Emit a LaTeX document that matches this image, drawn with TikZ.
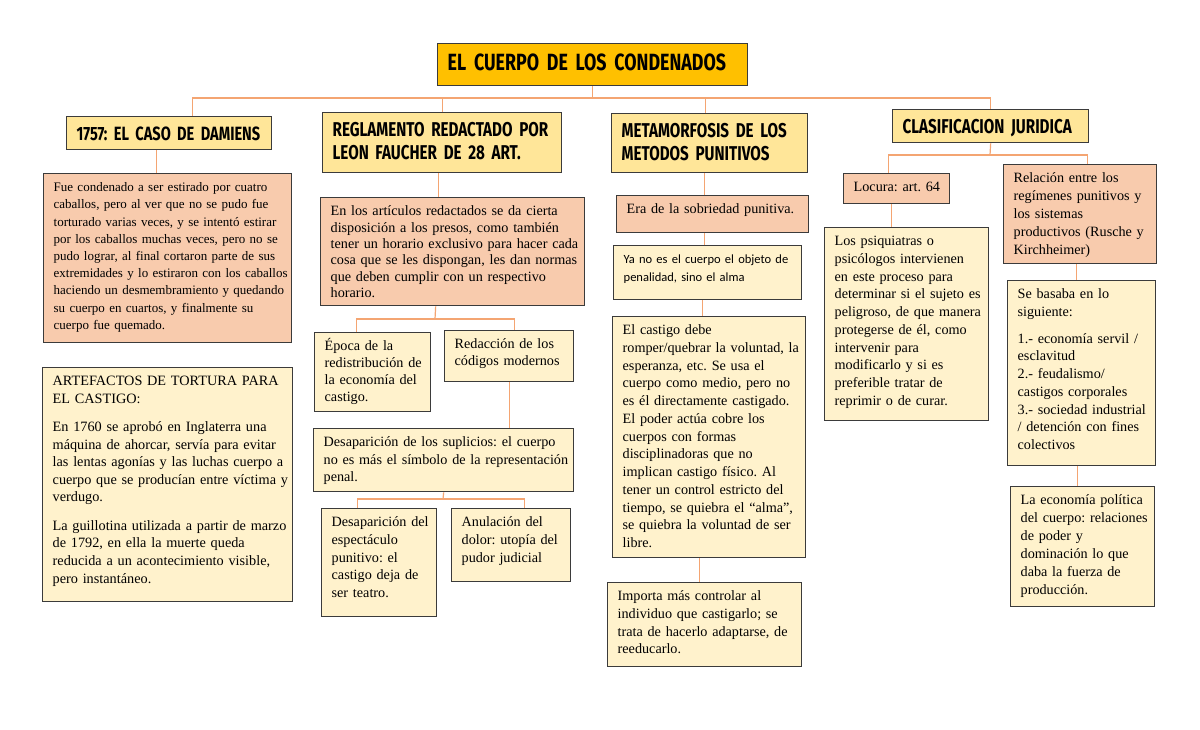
\documentclass[tikz,border=0pt]{standalone}
\usepackage{fontspec}
\setmainfont{Liberation Serif}
\newfontfamily\rotulo[FakeStretch=0.76]{Fira Sans}
\newfontfamily\sinserif{Carlito}
\usetikzlibrary{positioning}
\frenchspacing

\definecolor{oro}{HTML}{FFC000}
\definecolor{arena}{HTML}{FFE699}
\definecolor{durazno}{HTML}{F8CBAD}
\definecolor{crema}{HTML}{FFF2CC}
\definecolor{borde}{HTML}{3B3B3B}
\definecolor{naranja}{HTML}{F4A572}

\newcommand{\letra}[2]{\fontsize{#1}{#2}\selectfont}

\begin{document}
\begin{tikzpicture}[x=0.75pt,y=-0.75pt,
  caja/.style={draw=borde,line width=1pt,anchor=north west,align=left,
    inner xsep=2pt,inner ysep=4pt,text height=9.5pt,
    execute at begin node={\leftskip=5.5pt},font=\letra{10.65pt}{13.3pt}},
  durazno/.style={caja,fill=durazno},
  crema/.style={caja,fill=crema},
  cabecera/.style={caja,fill=arena,text height=13.5pt,
    font=\rotulo\bfseries\letra{15pt}{17.25pt}},
  linea/.style={draw=naranja,line width=0.9pt}]

  \path[fill=white] (0,0) rectangle (1200,729);

  % titulo y columnas
  \node[cabecera,fill=oro,text height=16pt,text width=228.5pt,text depth=7.5pt,
        font=\rotulo\bfseries\letra{17.6pt}{20pt}] (titulo) at (437,43) {EL CUERPO DE LOS CONDENADOS};
  \node[cabecera,text width=149.75pt,text depth=3.25pt,
        font=\rotulo\bfseries\letra{14.4pt}{17.25pt}] (h1) at (66,116) {1757: EL CASO DE DAMIENS};
  \node[cabecera,text width=175.25pt,text depth=23.5pt] (h2) at (322,112) {REGLAMENTO REDACTADO POR\\LEON FAUCHER DE 28 ART.};
  \node[cabecera,text width=143pt,text depth=22.75pt] (h3) at (611,113) {METAMORFOSIS DE LOS\\METODOS PUNITIVOS};
  \node[cabecera,text width=143pt,text depth=3.25pt] (h4) at (892,109) {CLASIFICACION JURIDICA};

  % columna 1
  \node[durazno,text width=182pt,text depth=109.25pt,font=\letra{9.75pt}{12.9pt}] (damiens) at (43,173)
    {Fue condenado a ser estirado por cuatro\\
     caballos, pero al ver que no se pudo fue\\
     torturado varias veces, y se intentó estirar\\
     por los caballos muchas veces, pero no se\\
     pudo lograr, al final cortaron parte de sus\\
     extremidades y lo estiraron con los caballos\\
     haciendo un desmembramiento y quedando\\
     su cuerpo en cuartos, y finalmente su\\
     cuerpo fue quemado.};
  \node[crema,text width=183.5pt,text depth=158pt,font=\letra{10.7pt}{13.2pt}] (artefactos) at (42,367)
    {ARTEFACTOS DE TORTURA PARA\\
     EL CASTIGO:\\[8pt]
     En 1760 se aprobó en Inglaterra una\\
     máquina de ahorcar, servía para evitar\\
     las lentas agonías y las luchas cuerpo a\\
     cuerpo que se producían entre víctima y\\
     verdugo.\\[8pt]
     La guillotina utilizada a partir de marzo\\
     de 1792, en ella la muerte queda\\
     reducida a un acontecimiento visible,\\
     pero instantáneo.};

  % columna 2
  \node[durazno,text width=194pt,text depth=63.5pt,font=\letra{10.65pt}{12.25pt}] (enlos) at (320,197)
    {En los artículos redactados se da cierta\\
     disposición a los presos, como también\\
     tener un horario exclusivo para hacer cada\\
     cosa que se les dispongan, les dan normas\\
     que deben cumplir con un respectivo\\
     horario.};
  \node[crema,text width=83pt,text depth=41.75pt,font=\letra{10.65pt}{12.75pt}] (epoca) at (314,332)
    {Época de la\\redistribución de\\la economía del\\castigo.};
  \node[crema,text width=92.75pt,text depth=20.75pt,font=\letra{10.65pt}{12.5pt}] (redaccion) at (444,330)
    {Redacción de los\\códigos modernos};
  \node[crema,text width=191pt,text depth=29.75pt,font=\letra{10.65pt}{13.1pt}] (suplicios) at (313,428)
    {Desaparición de los suplicios: el cuerpo\\
     no es más el símbolo de la representación\\
     penal.};
  \node[crema,text width=82.25pt,text depth=63.5pt] (espectaculo) at (321,508)
    {Desaparición del\\espectáculo\\punitivo: el\\castigo deja de\\ser teatro.};
  \node[crema,text width=85.25pt,text depth=37.25pt] (anulacion) at (451,508)
    {Anulación del\\dolor: utopía del\\pudor judicial};

  % columna 3
  \node[durazno,text width=140pt,text depth=10.25pt] (sobriedad) at (616,195) {Era de la sobriedad punitiva.};
  \node[crema,text width=137pt,text depth=23pt,font=\sinserif\letra{9.4pt}{13.5pt}] (alma) at (613,245)
    {Ya no es el cuerpo el objeto de\\penalidad, sino el alma};
  \node[crema,text width=140.75pt,text depth=163.25pt] (castigo) at (612,316)
    {El castigo debe\\
     romper/quebrar la voluntad, la\\
     esperanza, etc. Se usa el\\
     cuerpo como medio, pero no\\
     es él directamente castigado.\\
     El poder actúa cobre los\\
     cuerpos con formas\\
     disciplinadoras que no\\
     implican castigo físico. Al\\
     tener un control estricto del\\
     tiempo, se quiebra el “alma”,\\
     se quiebra la voluntad de ser\\
     libre.};
  \node[crema,text width=141.5pt,text depth=45.5pt] (importa) at (607,582)
    {Importa más controlar al\\
     individuo que castigarlo; se\\
     trata de hacerlo adaptarse, de\\
     reeducarlo.};

  % columna 4
  \node[durazno,text width=75.5pt,text depth=5pt] (locura) at (843,173) {Locura: art. 64};
  \node[crema,text width=119pt,text depth=127.25pt] (psiquiatras) at (824,227)
    {Los psiquiatras o\\
     psicólogos intervienen\\
     en este proceso para\\
     determinar si el sujeto es\\
     peligroso, de que manera\\
     protegerse de él, como\\
     intervenir para\\
     modificarlo y si es\\
     preferible tratar de\\
     reprimir o de curar.};
  \node[durazno,text width=110.75pt,text depth=56.75pt,font=\letra{10.65pt}{13.4pt}] (relacion) at (1003,164)
    {Relación entre los\\
     regímenes punitivos y\\
     los sistemas\\
     productivos (Rusche y\\
     Kirchheimer)};
  \node[crema,text width=107pt,text depth=121.25pt] (basaba) at (1007,280)
    {Se basaba en lo\\
     siguiente:\\[6.75pt]
     1.- economía servil /\\
     esclavitud\\
     2.- feudalismo/\\
     castigos corporales\\
     3.- sociedad industrial\\
     / detención con fines\\
     colectivos};
  \node[crema,text width=104pt,text depth=72.5pt,font=\letra{10.65pt}{13.4pt}] (economia) at (1010,486)
    {La economía política\\
     del cuerpo: relaciones\\
     de poder y\\
     dominación lo que\\
     daba la fuerza de\\
     producción.};

  % conectores
  \coordinate (bus) at (594,98);
  \draw[linea] (titulo.south) -- (titulo.south |- bus);
  \draw[linea] ([xshift=17.6pt]h1.north) |- (bus) -| (h4.north);
  \draw[linea] (h2.north) -- (h2.north |- bus);
  \draw[linea] ([xshift=-3pt]h3.north) -- ([xshift=-3pt]h3.north |- bus);

  \draw[linea] ([xshift=-9.4pt]h1.south) -- ([xshift=-9.4pt]h1.south |- damiens.north);

  \draw[linea] ([xshift=-2.6pt]h2.south) -- ([xshift=-2.6pt]h2.south |- enlos.north);
  \coordinate (bus2) at (435,319);
  \draw[linea] ([xshift=-12.75pt]enlos.south) -- (bus2);
  \draw[linea] ([xshift=-12pt]epoca.north) |- (bus2) -| ([xshift=4.1pt]redaccion.north);
  \draw[linea] (redaccion.south) -- (redaccion.south |- suplicios.north);
  \coordinate (bus3) at (443,499);
  \draw[linea] (suplicios.south) -- (bus3);
  \draw[linea] ([xshift=-16.1pt]espectaculo.north) |- (bus3) -| ([xshift=10.1pt]anulacion.north);

  \draw[linea] ([xshift=-3.75pt]h3.south) -- ([xshift=-3.75pt]h3.south |- sobriedad.north);
  \draw[linea] ([xshift=-6pt]sobriedad.south) -- ([xshift=-6pt]sobriedad.south |- alma.north);
  \draw[linea] ([xshift=-3.75pt]alma.south) -- ([xshift=-3.75pt]alma.south |- castigo.north);
  \draw[linea] ([xshift=-7.1pt]castigo.south) -- ([xshift=-7.1pt]castigo.south |- importa.north);

  \coordinate (bus4) at (990,155);
  \draw[linea] (h4.south) -- (bus4);
  \draw[linea] ([xshift=-6pt]locura.north) |- (bus4) -| ([xshift=5.6pt]relacion.north);
  \draw[linea] ([xshift=-3.75pt]locura.south) -- ([xshift=-3.75pt]locura.south |- psiquiatras.north);
  \draw[linea] ([xshift=-2.6pt]relacion.south) -- ([xshift=-2.6pt]relacion.south |- basaba.north);
  \draw[linea] ([xshift=-3pt]basaba.south) -- ([xshift=-3pt]basaba.south |- economia.north);
\end{tikzpicture}
\end{document}
